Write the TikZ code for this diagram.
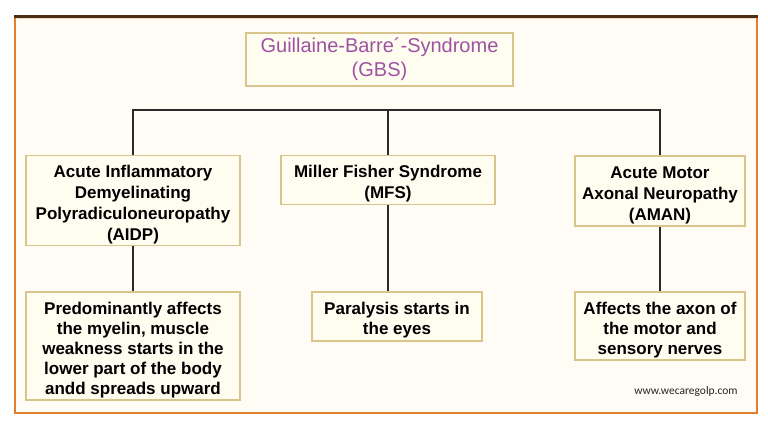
\documentclass[tikz,border=0pt]{standalone}
\usepackage{fontspec}
\setmainfont{Liberation Sans}
\newfontfamily\wmfont{Carlito}
\definecolor{framec}{HTML}{E27F2C}
\definecolor{topc}{HTML}{4A2E12}
\definecolor{bgc}{HTML}{FFFBF5}
\definecolor{boxc}{HTML}{D9C58C}
\definecolor{boxfill}{HTML}{FFFCF0}
\definecolor{titlec}{HTML}{9E52A2}
\definecolor{linec}{HTML}{2A2A2A}
\newcommand\tup{\rule{0pt}{20pt}}
\tikzset{
  infobox/.style={draw=boxc, line width=1.2pt, fill=boxfill, align=center, inner sep=2pt,
    font=\fontsize{17}{21}\selectfont\bfseries, text=black},
  lowbox/.style={infobox, font=\fontsize{17}{20}\selectfont\bfseries},
  titlebox/.style={draw=boxc, line width=1.2pt, fill=boxfill, align=center, inner sep=2pt,
    font=\fontsize{20}{24}\selectfont, text=titlec},
  conn/.style={draw=linec, line width=1.3pt}
}
\begin{document}
\begin{tikzpicture}[x=1pt,y=-1pt]
\useasboundingbox (0,0) rectangle (768,424);
\fill[white] (0,0) rectangle (768,424);
% frame
\fill[bgc] (15,16) rectangle (757,413);
\draw[framec, line width=2pt] (15,16) -- (15,413) -- (757,413) -- (757,16);
\draw[topc, line width=3pt] (14,16) -- (758,16);
\draw[white!70!framec, line width=1pt] (17,18.5) -- (755,18.5);
% nodes
\node[titlebox, minimum width=267pt, minimum height=53pt] (gbs) at (379.5,59.5)
  {Guillaine-Barre´-Syndrome\\(GBS)};
\node[infobox, minimum width=214pt, minimum height=89pt] (aidp) at (133,200.5)
  {\tup Acute Inflammatory\\Demyelinating\\Polyradiculoneuropathy\\(AIDP)};
\node[infobox, minimum width=214pt, minimum height=48pt] (mfs) at (388,180)
  {\tup Miller Fisher Syndrome\\(MFS)};
\node[infobox, minimum width=170pt, minimum height=70pt] (aman) at (660,191)
  {\tup Acute Motor\\Axonal Neuropathy\\(AMAN)};
\node[lowbox, minimum width=214pt, minimum height=108pt] (d1) at (133,346)
  {\tup Predominantly affects\\the myelin, muscle\\weakness starts in the\\lower part of the body\\andd spreads upward};
\node[lowbox, minimum width=170pt, minimum height=49pt] (d2) at (397,316.5)
  {\tup Paralysis starts in\\the eyes};
\node[lowbox, minimum width=170pt, minimum height=68pt] (d3) at (660,326)
  {\tup Affects the axon of\\the motor and\\sensory nerves};
% connectors
\coordinate (hl) at (133,110);
\coordinate (hr) at (660,110);
\coordinate (hm) at (388,110);
\draw[conn] (aidp.north) -- (hl) -- (hr) -- (aman.north);
\draw[conn] (hm) -- (mfs.north);
\draw[conn] (aidp.south) -- (d1.north);
\draw[conn] (mfs.south) -- (mfs.south |- d2.north);
\draw[conn] (aman.south) -- (d3.north);
% watermark
\node[font=\wmfont\fontsize{11.5}{13}\selectfont, text=black!85] (wm) at (686,391) {www.wecaregolp.com};
\end{tikzpicture}
\end{document}
